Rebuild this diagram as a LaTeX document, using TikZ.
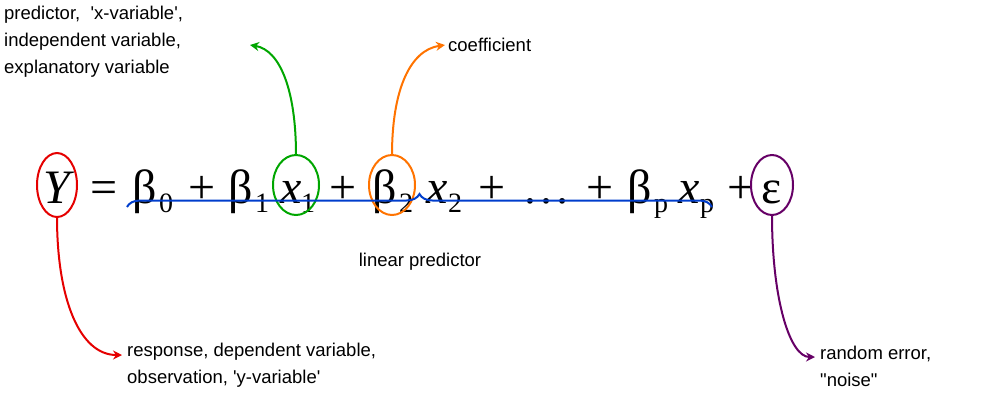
\documentclass[tikz,border=0pt]{standalone}
\usepackage{fontspec}
\setmainfont{Liberation Serif}
\newfontfamily\lab{Liberation Sans}
\usetikzlibrary{decorations.pathreplacing,arrows.meta}
\begin{document}
\begin{tikzpicture}[x=1pt,y=-1pt,
  eq/.style={font=\fontsize{48}{48}\selectfont,inner sep=0pt,anchor=base},
  sb/.style={font=\fontsize{28}{28}\selectfont,inner sep=0pt,anchor=base},
  lbl/.style={font=\lab\fontsize{18.5}{21}\selectfont,inner sep=0pt,align=left},
  ring/.style={draw,line width=2pt},
  arr/.style={line width=2pt,-{Stealth[length=9pt,width=9pt]}}]
\useasboundingbox (0,0) rectangle (991,408);
% equation
\node[eq] (Y) at (57,203) {\itshape Y};
\node[eq] (eqs) at (104,203) {=};
\node[eq] (b0) at (145,203) {β};
\node[sb] (s0) at (166,212) {0};
\node[eq] (p1) at (202,203) {+};
\node[eq] (b1) at (241,203) {β};
\node[sb] (s1) at (262,212) {1};
\node[eq] (x1) at (291,203) {\itshape x};
\node[sb] (s1x) at (308,212) {1};
\node[eq] (p2) at (343,203) {+};
\node[eq] (b2) at (385,203) {β};
\node[sb] (s2) at (406,212) {2};
\node[eq] (x2) at (437,203) {\itshape x};
\node[sb] (s2x) at (455,212) {2};
\node[eq] (p3) at (492,203) {+};
\node[eq] (dots) at (546,203) {…};
\node[eq] (p4) at (600,203) {+};
\node[eq] (bp) at (640,203) {β};
\node[sb] (sp) at (661,212) {p};
\node[eq] (xp) at (689,203) {\itshape x};
\node[sb] (spx) at (707,212) {p};
\node[eq] (p5) at (741,203) {+};
\node[eq] (eps) at (772,203) {ε};
% rings
\draw[ring,red!90!black] (57,185) ellipse [x radius=20, y radius=32];
\draw[ring,green!65!black] (296,185) ellipse [x radius=23, y radius=30];
\draw[ring,orange!90!red] (392,185) ellipse [x radius=23, y radius=30];
\draw[ring,violet!80!black] (772,185) ellipse [x radius=21, y radius=30];
\coordinate (ytop) at (57,217);
\coordinate (x1t) at (296,155);
\coordinate (b2t) at (392,155);
\coordinate (ebt) at (772,215);
\coordinate (tlend) at (250,45);
\coordinate (coend) at (445,45);
\coordinate (rend) at (122,355);
\coordinate (eend) at (815,357);
% brace
\draw[blue!70!cyan!80!black,line width=2pt,decorate,decoration={brace,amplitude=13pt}] (127,207) -- (712,207);
\node[lbl] (lp) at (420,262) {linear predictor};
% labels
\node[lbl,anchor=north west] (tl) at (4,6) {predictor,\ \ 'x-variable',\\[6pt]independent variable,\\[6pt]explanatory variable};
\node[lbl,anchor=west] (coef) at (448,45) {coefficient};
\node[lbl,anchor=north west] (resp) at (127,343) {response, dependent variable,\\[6pt]observation, 'y-variable'};
\node[lbl,anchor=north west] (rerr) at (820,346) {random error,\\[6pt]"noise"};
% arrows
\draw[arr,green!65!black] (x1t) .. controls (296,90) and (280,50) .. (tlend);
\draw[arr,orange!90!red] (b2t) .. controls (392,90) and (410,50) .. (coend);
\draw[arr,red!90!black] (ytop) .. controls (57,300) and (80,355) .. (rend);
\draw[arr,violet!80!black] (ebt) .. controls (772,300) and (790,357) .. (eend);
\end{tikzpicture}
\end{document}
